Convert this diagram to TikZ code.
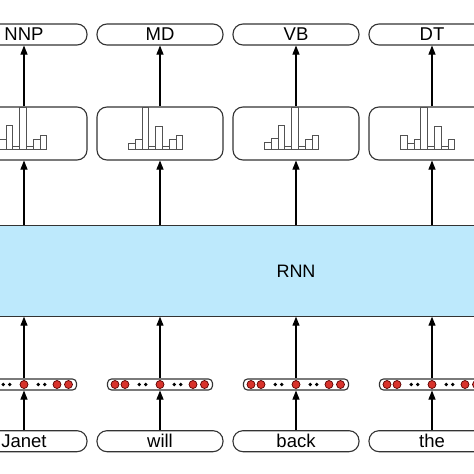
\documentclass[tikz,border=0pt]{standalone}
\usepackage{fontspec}
\setmainfont{Liberation Sans}
\usetikzlibrary{arrows.meta}
\definecolor{rnnblue}{HTML}{BDE9FC}
\definecolor{embred}{HTML}{D8322B}
\definecolor{edgegray}{HTML}{333333}
\tikzset{
 pill/.style={draw=edgegray,line width=1.1pt,rounded corners=10pt,minimum width=126pt,minimum height=21pt,inner sep=0pt,font=\fontsize{18.5}{18.5}\selectfont},
 softbox/.style={draw=edgegray,line width=1.1pt,rounded corners=10pt,minimum width=126pt,minimum height=53pt,inner sep=0pt},
 embbar/.style={draw=edgegray,line width=1.1pt,rounded corners=4pt,minimum width=105pt,minimum height=11pt,inner sep=0pt,fill=white},
 rnnbox/.style={draw=edgegray,line width=1.1pt,fill=rnnblue,minimum width=760pt,minimum height=90.3pt,inner sep=0pt,font=\fontsize{18}{18}\selectfont},
 conn/.style={draw=black,line width=1.1pt,-{Triangle[length=9pt,width=7pt]}},
 barbox/.style={draw=edgegray!85,line width=0.8pt,fill=white},
 unitc/.style={draw=black!65!red,fill=embred,line width=0.7pt},
}
\begin{document}
\begin{tikzpicture}[x=1pt,y=-1pt]
\useasboundingbox (0,0) rectangle (474,474);
\clip (0,0) rectangle (474,474);
\fill[white] (0,0) rectangle (474,474);
\node[rnnbox] (rnn) at (296,271) {RNN};
\foreach \i/\c/\w/\t/\hs in {
  1/24/Janet/NNP/{6.7,10,24,3,42,3,10,14},
  2/160/will/MD/{6,10,42,2.7,23,2.7,10,13.6},
  3/296/back/VB/{6.7,11,24,3.3,42,3,10,13.6},
  4/432/the/DT/{13.6,6,10,42,2.7,23,2.7,10}}{
  \node[pill] (lab\i) at (\c,34.5) {\t};
  \node[softbox] (soft\i) at (\c,133.5) {};
  \foreach \h [count=\k from 0] in \hs {
    \draw[barbox] (\c-31.7+6.8*\k,149.3) rectangle ++(6.8,-\h);
  }
  \node[embbar] (emb\i) at (\c,384.5) {};
  \foreach \dx in {-45,-35,0,33,44.5}{
    \filldraw[unitc] (\c+\dx,384.5) circle (4);
  }
  \foreach \dx in {-20.7,-14.3,14.3,20.7}{
    \fill[black] (\c+\dx,384.5) circle (1.9);
  }
  \node[pill] (word\i) at (\c,441.2) {\w};
  \draw[conn] (word\i.north) -- (emb\i.south);
  \draw[conn] (emb\i.north) -- (emb\i.north |- rnn.south);
  \draw[conn] (rnn.north -| soft\i.south) -- (soft\i.south);
  \draw[conn] (soft\i.north) -- (lab\i.south);
}
\end{tikzpicture}
\end{document}
